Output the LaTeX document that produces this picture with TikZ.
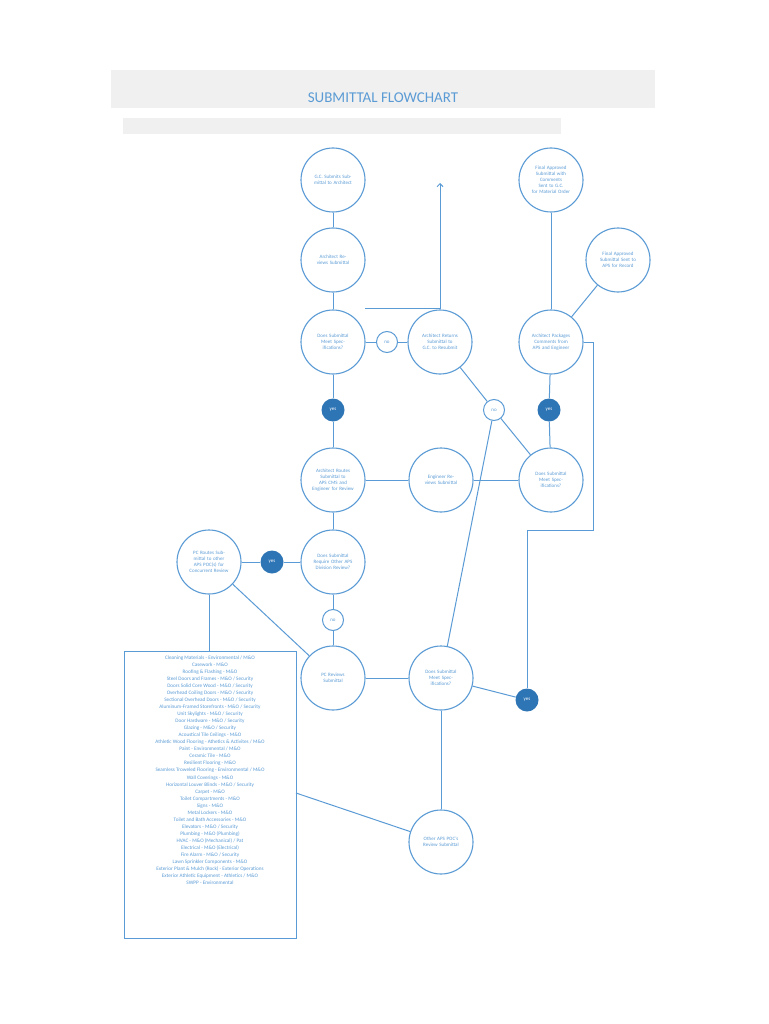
\documentclass[tikz,border=0pt]{standalone}
\usepackage{fontspec}
\setmainfont{Carlito}
\usetikzlibrary{arrows.meta}
\definecolor{ln}{HTML}{5B9BD5}
\definecolor{dk}{HTML}{2E75B6}
\definecolor{tx}{HTML}{5B9BD5}
\begin{document}
\begin{tikzpicture}[x=1pt,y=-1pt,
  big/.style={circle,draw=ln,line width=1.1pt,minimum size=64pt,inner sep=0pt,text width=42pt,align=center,font=\fontsize{5}{6}\selectfont,text=tx},
  sm/.style={circle,draw=ln,line width=1pt,minimum size=21pt,inner sep=0pt,font=\fontsize{5}{6}\selectfont,text=tx,fill=white},
  yesn/.style={circle,fill=dk,minimum size=23pt,inner sep=0pt,font=\fontsize{5}{6}\selectfont,text=white},
  con/.style={draw=ln,line width=1pt}]
\useasboundingbox (0,0) rectangle (768,1024);
\fill[white] (0,0) rectangle (768,1024);
\fill[black!6] (111,70) rectangle (655,108);
\fill[black!6] (123,118) rectangle (561,134);
\node[text=tx,font=\fontsize{15}{18}\selectfont] (title) at (383,98) {SUBMITTAL FLOWCHART};
\node[big] (gc) at (333,180) {G.C. Submits Submittal to Architect};
\node[big] (arev) at (333,260) {Architect Reviews Submittal};
\node[big] (m1) at (333,342) {Does Submittal Meet Specifications?};
\node[sm] (no1) at (387,342) {no};
\node[big] (ret) at (440,342) {Architect Returns Submittal to G.C. to Resubmit};
\node[yesn] (y1) at (333,410) {yes};
\node[big] (rout) at (333,480) {Architect Routes Submittal to APS CMS and Engineer for Review};
\node[big] (eng) at (441,480) {Engineer Reviews Submittal};
\node[big] (m2) at (551,480) {Does Submittal Meet Specifications?};
\node[big] (pack) at (551,342) {Architect Packages Comments from APS and Engineer};
\node[big] (f1) at (551,180) {Final Approved Submittal with Comments Sent to G.C. for Material Order};
\node[big] (f2) at (618,260) {Final Approved Submittal Sent to APS for Record};
\node[sm] (no2) at (494,410) {no};
\node[yesn] (y2) at (549,410) {yes};
\node[big] (req) at (333,562) {Does Submittal Require Other APS Division Review?};
\node[yesn] (y3) at (272,562) {yes};
\node[big] (pcr) at (209,562) {PC Routes Submittal to other APS POC(s) for Concurrent Review};
\node[sm] (no3) at (333,620) {no};
\node[big] (pcv) at (333,678) {PC Reviews Submittal};
\node[big] (m3) at (441,678) {Does Submittal Meet Specifications?};
\node[yesn] (y4) at (527,700) {yes};
\node[big] (oth) at (441,842) {Other APS POC's Review Submittal};
\node[draw=ln,line width=1pt,minimum width=172pt,minimum height=287pt,inner sep=0pt] (box) at (210,794.5) {};
\node[anchor=north,align=center,text=tx,font=\fontsize{5.2}{7.05}\selectfont] (lst) at (210,652) {Cleaning Materials - Environmental / M\&O\\Casework - M\&O\\Roofing \& Flashing - M\&O\\Steel Doors and Frames - M\&O / Security\\Doors Solid Core Wood - M\&O / Security\\Overhead Coiling Doors - M\&O / Security\\Sectional Overhead Doors - M\&O / Security\\Aluminum-Framed Storefronts - M\&O / Security\\Unit Skylights - M\&O / Security\\Door Hardware - M\&O / Security\\Glazing - M\&O / Security\\Acoustical Tile Ceilings - M\&O\\Athletic Wood Flooring - Athetics \& Activites / M\&O\\Paint - Environmental / M\&O\\Ceramic Tile - M\&O\\Resilient Flooring - M\&O\\Seamless Troweled Flooring - Environmental / M\&O\\Wall Coverings - M\&O\\Horizontal Louver Blinds - M\&O / Security\\Carpet - M\&O\\Toilet Compartments - M\&O\\Signs - M\&O\\Metal Lockers - M\&O\\Toilet and Bath Accessories - M\&O\\Elevators - M\&O / Security\\Plumbing - M\&O (Plumbing)\\HVAC - M\&O (Mechanical) / Pat\\Electrical - M\&O (Electrical)\\Fire Alarm - M\&O / Security\\Lawn Sprinkler Components - M\&O\\Exterior Plant \& Mulch (Rock) - Exterior Operations\\Exterior Athletic Equipment - Athletics / M\&O\\SWPP - Environmental};
\coordinate (lstart) at (365,308);
\coordinate (arrtip) at (440,183);
\coordinate (r1) at (593,342);
\coordinate (r2) at (593,530);
\coordinate (r3) at (527,530);
\path[con] (gc) -- (arev);
\path[con] (arev) -- (m1);
\path[con] (m1) -- (no1) -- (ret);
\path[con] (m1) -- (y1) -- (rout);
\path[con] (lstart) -- (440,308);
\path[con,-{Straight Barb[length=3pt,width=6pt]}] (ret) -- (arrtip);
\path[con] (ret) -- (no2);
\path[con] (no2) -- (m2);
\path[con] (no2) -- (m3);
\path[con] (rout) -- (eng) -- (m2);
\path[con] (m2) -- (y2) -- (pack);
\path[con] (pack) -- (f1);
\path[con] (pack) -- (f2);
\path[con] (pack.east) -- (r1) -- (r2) -- (r3) -- (y4);
\path[con] (y4) -- (m3);
\path[con] (rout) -- (req);
\path[con] (req) -- (y3) -- (pcr);
\path[con] (req) -- (no3) -- (pcv);
\path[con] (pcr) -- (pcv);
\path[con] (pcr) -- (209,651);
\path[con] (pcv) -- (m3);
\path[con] (m3) -- (oth);
\path[con] (296,793) -- (oth);
\end{tikzpicture}
\end{document}
